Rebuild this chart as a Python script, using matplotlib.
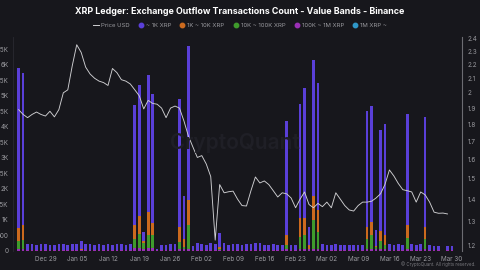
import numpy as np
import pandas as pd
import matplotlib
matplotlib.use("Agg")
import matplotlib.pyplot as plt
import matplotlib.dates as mdates
from matplotlib.lines import Line2D
from matplotlib.ticker import FuncFormatter, FixedLocator

# daily data, Dec 23 2025 .. Mar 30 2026
dates = pd.date_range("2025-12-23", periods=98, freq="D")

band_lt_1k = [
    5140, 4920, 170, 190, 165, 185, 175, 160, 150, 190,
    170, 165, 180, 175, 250, 190, 175, 160, 170, 150,
    185, 160, 170, 180, 165, 175, 3871, 4235, 300, 4408,
    4155, 30, 160, 150, 170, 175, 4134, 1404, 4976, 120,
    210, 190, 150, 220, 180, 470, 200, 160, 170, 185,
    165, 170, 175, 200, 205, 160, 150, 170, 165, 150,
    3692, 160, 150, 3665, 4174, 594, 4388, 4085, 170, 160,
    165, 175, 150, 160, 155, 150, 160, 140, 3739, 3743,
    520, 3259, 3573, 180, 160, 190, 150, 3570, 170, 140,
    180, 3525, 140, 130, 130, 0, 120, 130]
band_1k_10k = [
    420, 460, 15, 10, 12, 10, 12, 10, 10, 12,
    12, 10, 12, 10, 20, 12, 10, 10, 12, 10,
    12, 10, 10, 12, 10, 12, 462, 580, 50, 750,
    390, 5, 12, 10, 12, 10, 460, 240, 807, 10,
    15, 12, 10, 15, 12, 60, 15, 10, 12, 12,
    10, 12, 10, 15, 15, 10, 10, 12, 10, 10,
    322, 10, 10, 613, 560, 130, 774, 700, 12, 10,
    10, 12, 10, 10, 10, 10, 10, 10, 410, 430,
    20, 322, 320, 12, 10, 15, 10, 430, 12, 10,
    12, 410, 10, 10, 10, 0, 10, 10]
band_10k_100k = [
    270, 310, 5, 5, 4, 5, 5, 4, 4, 5,
    5, 4, 5, 5, 8, 5, 5, 4, 5, 4,
    5, 4, 5, 5, 4, 5, 290, 450, 200, 430,
    420, 0, 5, 4, 5, 5, 235, 80, 775, 4,
    6, 5, 4, 6, 5, 20, 5, 4, 5, 5,
    4, 5, 5, 6, 6, 4, 4, 5, 4, 4,
    130, 4, 4, 400, 450, 0, 935, 560, 5, 4,
    4, 5, 4, 4, 4, 4, 4, 4, 313, 450,
    80, 258, 130, 5, 4, 6, 4, 345, 5, 4,
    5, 313, 4, 4, 4, 0, 4, 4]
band_100k_1m = [
    50, 50, 15, 15, 15, 15, 15, 15, 15, 15,
    15, 15, 15, 15, 20, 15, 15, 15, 15, 15,
    15, 15, 15, 15, 15, 15, 77, 80, 63, 80,
    80, 10, 15, 15, 15, 15, 55, 50, 55, 15,
    15, 15, 15, 15, 15, 30, 15, 15, 15, 15,
    15, 15, 15, 15, 15, 15, 15, 15, 15, 15,
    50, 15, 15, 55, 55, 50, 55, 55, 15, 15,
    15, 15, 15, 15, 15, 15, 15, 15, 55, 55,
    48, 55, 55, 15, 15, 15, 15, 55, 15, 15,
    15, 55, 15, 15, 15, 0, 15, 15]
band_gt_1m = [0] * 98

# price line, Dec 23 .. Mar 29
price = [
    1.89, 1.86, 1.84, 1.86, 1.875, 1.86, 1.85, 1.88, 1.845, 1.89,
    2.0, 2.02, 2.19, 2.35, 2.29, 2.18, 2.13, 2.10, 2.08, 2.07,
    2.05, 2.17, 2.14, 2.09, 2.08, 2.06, 2.02, 1.98, 1.895, 1.95,
    1.93, 1.925, 1.90, 1.84, 1.90, 1.913, 1.90, 1.82, 1.73, 1.668,
    1.61, 1.62, 1.575, 1.51, 1.22, 1.47, 1.43, 1.435, 1.438, 1.40,
    1.37, 1.368, 1.44, 1.508, 1.478, 1.488, 1.47, 1.44, 1.41, 1.43,
    1.425, 1.405, 1.36, 1.40, 1.434, 1.375, 1.36, 1.38, 1.365, 1.386,
    1.36, 1.43, 1.40, 1.37, 1.35, 1.345, 1.37, 1.386, 1.386, 1.39,
    1.405, 1.425, 1.47, 1.544, 1.513, 1.475, 1.445, 1.44, 1.434, 1.386,
    1.434, 1.42, 1.386, 1.34, 1.335, 1.336, 1.332]

band_names = ["~ 1K XRP", "1K ~ 10K XRP", "10K ~ 100K XRP", "100K ~ 1M XRP", "1M XRP ~"]
band_colors = ["#5a3fd8", "#cc6a1e", "#3f9b2c", "#9a2fb5", "#2f97c8"]

bg = "#17171c"
txt = "#9a9a9f"
plt.rcParams["font.family"] = ["Inter", "DejaVu Sans"]

fig = plt.figure(figsize=(4.8, 2.7), dpi=100, facecolor=bg)
ax = fig.add_axes([0.028, 0.0715, 0.9345, 0.7915])
ax.set_facecolor(bg)
ax2 = ax.twinx()

fig.text(0.49, 0.47, "CryptoQuant", ha="center", va="center", color="#1f1f26",
         fontsize=15, fontweight="semibold", zorder=0)

# stack order from the bottom: 1M+, 100K-1M, 10K-100K, 1K-10K, ~1K
stack = [(band_gt_1m, band_colors[4]), (band_100k_1m, band_colors[3]),
         (band_10k_100k, band_colors[2]), (band_1k_10k, band_colors[1]),
         (band_lt_1k, band_colors[0])]
bottom = np.zeros(len(dates))
for vals, c in stack:
    vals = np.array(vals, dtype=float)
    ax.bar(dates, vals, bottom=bottom, width=0.6, color=c, linewidth=0)
    bottom += vals

ax2.plot(dates[:len(price)], price, color="#cfcfd2", lw=0.65)
ax2.set_yscale("log")
ax2.set_ylim(1.1775, 2.412)
pt = [1.2, 1.3, 1.4, 1.5, 1.6, 1.7, 1.8, 1.9, 2.0, 2.1, 2.2, 2.3, 2.4]
ax2.yaxis.set_major_locator(FixedLocator(pt))
ax2.yaxis.set_minor_locator(FixedLocator([]))
ax2.yaxis.set_major_formatter(FuncFormatter(lambda v, p: f"{v:g}"))
ax2.tick_params(axis="y", length=0, pad=4, labelsize=4.6, labelcolor=txt)

ax.set_ylim(0, 6890)
ax.yaxis.set_major_locator(FixedLocator(np.arange(0, 6501, 500)))
ax.yaxis.set_major_formatter(FuncFormatter(
    lambda v, p: "0" if v == 0 else (f"{v:g}" if v < 1000 else f"{v/1000:g}K")))
ax.tick_params(axis="y", length=0, pad=3.5, labelsize=4.6, labelcolor=txt)

ax.set_xlim(pd.Timestamp("2025-12-21 20:00"), pd.Timestamp("2026-04-01 06:00"))
ax.xaxis.set_major_locator(FixedLocator(mdates.date2num(
    pd.date_range("2025-12-29", "2026-03-30", freq="7D"))))
ax.xaxis.set_major_formatter(mdates.DateFormatter("%b %d"))
ax.tick_params(axis="x", length=0, pad=4, labelsize=4.6, labelcolor=txt)

for a in (ax, ax2):
    for s in a.spines.values():
        s.set_visible(False)
ax.spines["left"].set_visible(True)
ax.spines["left"].set_color("#2a2a31")
ax.spines["left"].set_linewidth(0.6)
ax2.spines["right"].set_visible(True)
ax2.spines["right"].set_color("#6c6c72")
ax2.spines["right"].set_linewidth(0.8)

fig.text(0.5, 0.958, "XRP Ledger: Exchange Outflow Transactions Count - Value Bands - Binance",
         ha="center", va="center", color="white", fontsize=6.4, fontweight="bold")

handles = [Line2D([], [], color="#cfcfd2", lw=0.7)]
for c in band_colors:
    handles.append(Line2D([], [], ls="none", marker="o", ms=3.2, color=c))
fig.legend(handles, ["Price USD"] + band_names, loc="center", bbox_to_anchor=(0.5, 0.906),
           ncol=6, frameon=False, fontsize=4.3, labelcolor=txt, handlelength=1.0,
           handletextpad=0.3, columnspacing=1.4)

fig.text(0.99, 0.012, "\u00a9 CryptoQuant. All rights reserved.", ha="right", va="bottom",
         color="#77777c", fontsize=3.2)

fig.savefig("out.png", dpi=100, facecolor=bg)
